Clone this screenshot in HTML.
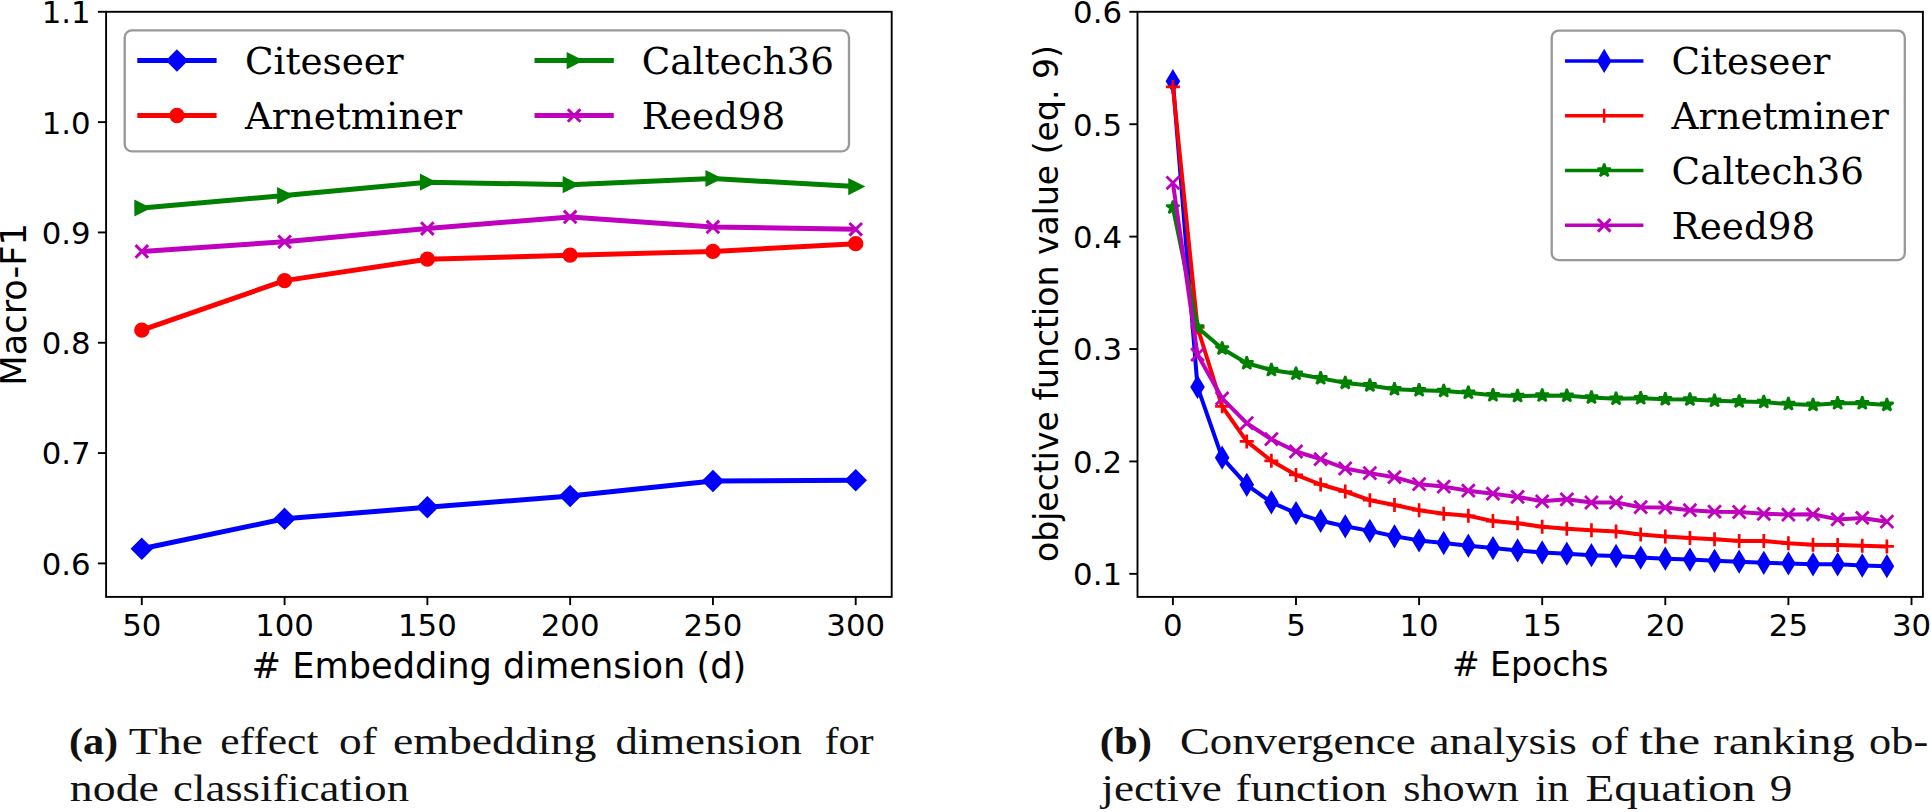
<!DOCTYPE html>
<html lang="en"><head><meta charset="utf-8"><title>Figure</title>
<style>html,body{margin:0;padding:0;background:#fff;overflow:hidden}svg{display:block}text{fill:#000}#captions text{fill:#111}</style></head>
<body>
<svg width="1931" height="812" viewBox="0 0 1931 812">
<rect width="1931" height="812" fill="#fff"/>
<g id="left-chart">
<polyline points="141.8,548.8 284.58,518.8 427.36,507.2 570.14,496.1 712.92,481 855.7,480.2" fill="none" stroke="#0000ff" stroke-width="5.0" stroke-linejoin="round" stroke-linecap="butt"/>
<path d="M141.8 539.2L151.4 548.8L141.8 558.4L132.2 548.8Z" fill="#0000ff" stroke="#0000ff" stroke-width="2.33" stroke-linejoin="miter"/>
<path d="M284.58 509.2L294.18 518.8L284.58 528.4L274.98 518.8Z" fill="#0000ff" stroke="#0000ff" stroke-width="2.33" stroke-linejoin="miter"/>
<path d="M427.36 497.6L436.96 507.2L427.36 516.8L417.76 507.2Z" fill="#0000ff" stroke="#0000ff" stroke-width="2.33" stroke-linejoin="miter"/>
<path d="M570.14 486.5L579.74 496.1L570.14 505.7L560.54 496.1Z" fill="#0000ff" stroke="#0000ff" stroke-width="2.33" stroke-linejoin="miter"/>
<path d="M712.92 471.4L722.52 481L712.92 490.6L703.32 481Z" fill="#0000ff" stroke="#0000ff" stroke-width="2.33" stroke-linejoin="miter"/>
<path d="M855.7 470.6L865.3 480.2L855.7 489.8L846.1 480.2Z" fill="#0000ff" stroke="#0000ff" stroke-width="2.33" stroke-linejoin="miter"/>
<polyline points="141.8,330.2 284.58,280.6 427.36,259.2 570.14,255.2 712.92,251.4 855.7,243.7" fill="none" stroke="#ff0000" stroke-width="5.0" stroke-linejoin="round" stroke-linecap="butt"/>
<circle cx="141.8" cy="330.2" r="6.5" fill="#ff0000" stroke="#ff0000" stroke-width="2.33"/>
<circle cx="284.58" cy="280.6" r="6.5" fill="#ff0000" stroke="#ff0000" stroke-width="2.33"/>
<circle cx="427.36" cy="259.2" r="6.5" fill="#ff0000" stroke="#ff0000" stroke-width="2.33"/>
<circle cx="570.14" cy="255.2" r="6.5" fill="#ff0000" stroke="#ff0000" stroke-width="2.33"/>
<circle cx="712.92" cy="251.4" r="6.5" fill="#ff0000" stroke="#ff0000" stroke-width="2.33"/>
<circle cx="855.7" cy="243.7" r="6.5" fill="#ff0000" stroke="#ff0000" stroke-width="2.33"/>
<polyline points="141.8,208 284.58,195.6 427.36,182.2 570.14,184.7 712.92,178.5 855.7,186.6" fill="none" stroke="#008000" stroke-width="5.0" stroke-linejoin="round" stroke-linecap="butt"/>
<path d="M148.8 208L135.5 201.3L135.5 214.7Z" fill="#008000" stroke="#008000" stroke-width="2.33" stroke-linejoin="miter"/>
<path d="M291.58 195.6L278.28 188.9L278.28 202.3Z" fill="#008000" stroke="#008000" stroke-width="2.33" stroke-linejoin="miter"/>
<path d="M434.36 182.2L421.06 175.5L421.06 188.9Z" fill="#008000" stroke="#008000" stroke-width="2.33" stroke-linejoin="miter"/>
<path d="M577.14 184.7L563.84 178L563.84 191.4Z" fill="#008000" stroke="#008000" stroke-width="2.33" stroke-linejoin="miter"/>
<path d="M719.92 178.5L706.62 171.8L706.62 185.2Z" fill="#008000" stroke="#008000" stroke-width="2.33" stroke-linejoin="miter"/>
<path d="M862.7 186.6L849.4 179.9L849.4 193.3Z" fill="#008000" stroke="#008000" stroke-width="2.33" stroke-linejoin="miter"/>
<polyline points="141.8,251.4 284.58,241.8 427.36,228.6 570.14,216.9 712.92,226.9 855.7,229.3" fill="none" stroke="#bf00bf" stroke-width="5.0" stroke-linejoin="round" stroke-linecap="butt"/>
<path d="M135.5 245.1L148.1 257.7M135.5 257.7L148.1 245.1" fill="none" stroke="#bf00bf" stroke-width="3.0"/>
<path d="M278.28 235.5L290.88 248.1M278.28 248.1L290.88 235.5" fill="none" stroke="#bf00bf" stroke-width="3.0"/>
<path d="M421.06 222.3L433.66 234.9M421.06 234.9L433.66 222.3" fill="none" stroke="#bf00bf" stroke-width="3.0"/>
<path d="M563.84 210.6L576.44 223.2M563.84 223.2L576.44 210.6" fill="none" stroke="#bf00bf" stroke-width="3.0"/>
<path d="M706.62 220.6L719.22 233.2M706.62 233.2L719.22 220.6" fill="none" stroke="#bf00bf" stroke-width="3.0"/>
<path d="M849.4 223L862 235.6M849.4 235.6L862 223" fill="none" stroke="#bf00bf" stroke-width="3.0"/>
<rect x="106.1" y="11.8" width="785.6" height="585.1" fill="none" stroke="#000" stroke-width="1.9"/>
<path d="M106.1 11.8h-8.2" stroke="#000" stroke-width="1.9"/>
<text x="90.7" y="23.2" font-family="'DejaVu Sans','Liberation Sans',sans-serif" font-size="30.8" text-anchor="end">1.1</text>
<path d="M106.1 122.12h-8.2" stroke="#000" stroke-width="1.9"/>
<text x="90.7" y="133.52" font-family="'DejaVu Sans','Liberation Sans',sans-serif" font-size="30.8" text-anchor="end">1.0</text>
<path d="M106.1 232.44h-8.2" stroke="#000" stroke-width="1.9"/>
<text x="90.7" y="243.84" font-family="'DejaVu Sans','Liberation Sans',sans-serif" font-size="30.8" text-anchor="end">0.9</text>
<path d="M106.1 342.76h-8.2" stroke="#000" stroke-width="1.9"/>
<text x="90.7" y="354.16" font-family="'DejaVu Sans','Liberation Sans',sans-serif" font-size="30.8" text-anchor="end">0.8</text>
<path d="M106.1 453.08h-8.2" stroke="#000" stroke-width="1.9"/>
<text x="90.7" y="464.48" font-family="'DejaVu Sans','Liberation Sans',sans-serif" font-size="30.8" text-anchor="end">0.7</text>
<path d="M106.1 563.4h-8.2" stroke="#000" stroke-width="1.9"/>
<text x="90.7" y="574.8" font-family="'DejaVu Sans','Liberation Sans',sans-serif" font-size="30.8" text-anchor="end">0.6</text>
<path d="M141.8 596.9v8.2" stroke="#000" stroke-width="1.9"/>
<text x="141.8" y="635.6" font-family="'DejaVu Sans','Liberation Sans',sans-serif" font-size="30.8" text-anchor="middle">50</text>
<path d="M284.58 596.9v8.2" stroke="#000" stroke-width="1.9"/>
<text x="284.58" y="635.6" font-family="'DejaVu Sans','Liberation Sans',sans-serif" font-size="30.8" text-anchor="middle">100</text>
<path d="M427.36 596.9v8.2" stroke="#000" stroke-width="1.9"/>
<text x="427.36" y="635.6" font-family="'DejaVu Sans','Liberation Sans',sans-serif" font-size="30.8" text-anchor="middle">150</text>
<path d="M570.14 596.9v8.2" stroke="#000" stroke-width="1.9"/>
<text x="570.14" y="635.6" font-family="'DejaVu Sans','Liberation Sans',sans-serif" font-size="30.8" text-anchor="middle">200</text>
<path d="M712.92 596.9v8.2" stroke="#000" stroke-width="1.9"/>
<text x="712.92" y="635.6" font-family="'DejaVu Sans','Liberation Sans',sans-serif" font-size="30.8" text-anchor="middle">250</text>
<path d="M855.7 596.9v8.2" stroke="#000" stroke-width="1.9"/>
<text x="855.7" y="635.6" font-family="'DejaVu Sans','Liberation Sans',sans-serif" font-size="30.8" text-anchor="middle">300</text>
<text x="498.9" y="677.5" font-family="'DejaVu Sans','Liberation Sans',sans-serif" font-size="35.2" text-anchor="middle"># Embedding dimension (d)</text>
<text transform="translate(25.9 304.4) rotate(-90)" font-family="'DejaVu Sans','Liberation Sans',sans-serif" font-size="35.2" text-anchor="middle">Macro-F1</text>
<rect x="124.7" y="30.4" width="724.3" height="120.9" rx="7" ry="7" fill="#fff" fill-opacity="0.8" stroke="#999" stroke-width="2.33"/>
<path d="M137.3 60.6h79.3" stroke="#0000ff" stroke-width="5.0" fill="none"/>
<path d="M176.95 51L186.55 60.6L176.95 70.2L167.35 60.6Z" fill="#0000ff" stroke="#0000ff" stroke-width="2.33" stroke-linejoin="miter"/>
<path d="M137.3 115.5h79.3" stroke="#ff0000" stroke-width="5.0" fill="none"/>
<circle cx="176.95" cy="115.5" r="6.5" fill="#ff0000" stroke="#ff0000" stroke-width="2.33"/>
<path d="M534.5 60.6h79.3" stroke="#008000" stroke-width="5.0" fill="none"/>
<path d="M581.15 60.6L567.85 53.9L567.85 67.3Z" fill="#008000" stroke="#008000" stroke-width="2.33" stroke-linejoin="miter"/>
<path d="M534.5 115.5h79.3" stroke="#bf00bf" stroke-width="5.0" fill="none"/>
<path d="M567.85 109.2L580.45 121.8M567.85 121.8L580.45 109.2" fill="none" stroke="#bf00bf" stroke-width="3.0"/>
<text x="244.9" y="74.2" font-family="'DejaVu Serif','Liberation Serif',serif" font-size="37.33">Citeseer</text>
<text x="244.9" y="129.1" font-family="'DejaVu Serif','Liberation Serif',serif" font-size="37.33">Arnetminer</text>
<text x="641.7" y="74.2" font-family="'DejaVu Serif','Liberation Serif',serif" font-size="37.33">Caltech36</text>
<text x="641.7" y="129.1" font-family="'DejaVu Serif','Liberation Serif',serif" font-size="37.33">Reed98</text>
</g>
<g id="right-chart">
<polyline points="1172.9,81.2 1197.52,386.9 1222.14,457.7 1246.76,484.8 1271.38,502.3 1296,513.1 1320.62,520.8 1345.24,526.3 1369.86,530.9 1394.48,536.3 1419.1,540.4 1443.72,543 1468.34,545.7 1492.96,548.1 1517.58,550.4 1542.2,552.5 1566.82,553.7 1591.44,555.2 1616.06,556 1640.68,557.6 1665.3,558.7 1689.92,559.6 1714.54,560.8 1739.16,561.7 1763.78,562.8 1788.4,563.4 1813.02,564.3 1837.64,564.3 1862.26,565.5 1886.88,566.2" fill="none" stroke="#0000ff" stroke-width="4.0" stroke-linejoin="round" stroke-linecap="butt"/>
<path d="M1172.9 71.3L1178.84 81.2L1172.9 91.1L1166.96 81.2Z" fill="#0000ff" stroke="#0000ff" stroke-width="2.33" stroke-linejoin="miter"/>
<path d="M1197.52 377L1203.46 386.9L1197.52 396.8L1191.58 386.9Z" fill="#0000ff" stroke="#0000ff" stroke-width="2.33" stroke-linejoin="miter"/>
<path d="M1222.14 447.8L1228.08 457.7L1222.14 467.6L1216.2 457.7Z" fill="#0000ff" stroke="#0000ff" stroke-width="2.33" stroke-linejoin="miter"/>
<path d="M1246.76 474.9L1252.7 484.8L1246.76 494.7L1240.82 484.8Z" fill="#0000ff" stroke="#0000ff" stroke-width="2.33" stroke-linejoin="miter"/>
<path d="M1271.38 492.4L1277.32 502.3L1271.38 512.2L1265.44 502.3Z" fill="#0000ff" stroke="#0000ff" stroke-width="2.33" stroke-linejoin="miter"/>
<path d="M1296 503.2L1301.94 513.1L1296 523L1290.06 513.1Z" fill="#0000ff" stroke="#0000ff" stroke-width="2.33" stroke-linejoin="miter"/>
<path d="M1320.62 510.9L1326.56 520.8L1320.62 530.7L1314.68 520.8Z" fill="#0000ff" stroke="#0000ff" stroke-width="2.33" stroke-linejoin="miter"/>
<path d="M1345.24 516.4L1351.18 526.3L1345.24 536.2L1339.3 526.3Z" fill="#0000ff" stroke="#0000ff" stroke-width="2.33" stroke-linejoin="miter"/>
<path d="M1369.86 521L1375.8 530.9L1369.86 540.8L1363.92 530.9Z" fill="#0000ff" stroke="#0000ff" stroke-width="2.33" stroke-linejoin="miter"/>
<path d="M1394.48 526.4L1400.42 536.3L1394.48 546.2L1388.54 536.3Z" fill="#0000ff" stroke="#0000ff" stroke-width="2.33" stroke-linejoin="miter"/>
<path d="M1419.1 530.5L1425.04 540.4L1419.1 550.3L1413.16 540.4Z" fill="#0000ff" stroke="#0000ff" stroke-width="2.33" stroke-linejoin="miter"/>
<path d="M1443.72 533.1L1449.66 543L1443.72 552.9L1437.78 543Z" fill="#0000ff" stroke="#0000ff" stroke-width="2.33" stroke-linejoin="miter"/>
<path d="M1468.34 535.8L1474.28 545.7L1468.34 555.6L1462.4 545.7Z" fill="#0000ff" stroke="#0000ff" stroke-width="2.33" stroke-linejoin="miter"/>
<path d="M1492.96 538.2L1498.9 548.1L1492.96 558L1487.02 548.1Z" fill="#0000ff" stroke="#0000ff" stroke-width="2.33" stroke-linejoin="miter"/>
<path d="M1517.58 540.5L1523.52 550.4L1517.58 560.3L1511.64 550.4Z" fill="#0000ff" stroke="#0000ff" stroke-width="2.33" stroke-linejoin="miter"/>
<path d="M1542.2 542.6L1548.14 552.5L1542.2 562.4L1536.26 552.5Z" fill="#0000ff" stroke="#0000ff" stroke-width="2.33" stroke-linejoin="miter"/>
<path d="M1566.82 543.8L1572.76 553.7L1566.82 563.6L1560.88 553.7Z" fill="#0000ff" stroke="#0000ff" stroke-width="2.33" stroke-linejoin="miter"/>
<path d="M1591.44 545.3L1597.38 555.2L1591.44 565.1L1585.5 555.2Z" fill="#0000ff" stroke="#0000ff" stroke-width="2.33" stroke-linejoin="miter"/>
<path d="M1616.06 546.1L1622 556L1616.06 565.9L1610.12 556Z" fill="#0000ff" stroke="#0000ff" stroke-width="2.33" stroke-linejoin="miter"/>
<path d="M1640.68 547.7L1646.62 557.6L1640.68 567.5L1634.74 557.6Z" fill="#0000ff" stroke="#0000ff" stroke-width="2.33" stroke-linejoin="miter"/>
<path d="M1665.3 548.8L1671.24 558.7L1665.3 568.6L1659.36 558.7Z" fill="#0000ff" stroke="#0000ff" stroke-width="2.33" stroke-linejoin="miter"/>
<path d="M1689.92 549.7L1695.86 559.6L1689.92 569.5L1683.98 559.6Z" fill="#0000ff" stroke="#0000ff" stroke-width="2.33" stroke-linejoin="miter"/>
<path d="M1714.54 550.9L1720.48 560.8L1714.54 570.7L1708.6 560.8Z" fill="#0000ff" stroke="#0000ff" stroke-width="2.33" stroke-linejoin="miter"/>
<path d="M1739.16 551.8L1745.1 561.7L1739.16 571.6L1733.22 561.7Z" fill="#0000ff" stroke="#0000ff" stroke-width="2.33" stroke-linejoin="miter"/>
<path d="M1763.78 552.9L1769.72 562.8L1763.78 572.7L1757.84 562.8Z" fill="#0000ff" stroke="#0000ff" stroke-width="2.33" stroke-linejoin="miter"/>
<path d="M1788.4 553.5L1794.34 563.4L1788.4 573.3L1782.46 563.4Z" fill="#0000ff" stroke="#0000ff" stroke-width="2.33" stroke-linejoin="miter"/>
<path d="M1813.02 554.4L1818.96 564.3L1813.02 574.2L1807.08 564.3Z" fill="#0000ff" stroke="#0000ff" stroke-width="2.33" stroke-linejoin="miter"/>
<path d="M1837.64 554.4L1843.58 564.3L1837.64 574.2L1831.7 564.3Z" fill="#0000ff" stroke="#0000ff" stroke-width="2.33" stroke-linejoin="miter"/>
<path d="M1862.26 555.6L1868.2 565.5L1862.26 575.4L1856.32 565.5Z" fill="#0000ff" stroke="#0000ff" stroke-width="2.33" stroke-linejoin="miter"/>
<path d="M1886.88 556.3L1892.82 566.2L1886.88 576.1L1880.94 566.2Z" fill="#0000ff" stroke="#0000ff" stroke-width="2.33" stroke-linejoin="miter"/>
<polyline points="1172.9,86.9 1197.52,327.5 1222.14,406.3 1246.76,441.4 1271.38,460.8 1296,474.9 1320.62,484.5 1345.24,491.5 1369.86,500.2 1394.48,505 1419.1,510.2 1443.72,513.8 1468.34,515.8 1492.96,521.1 1517.58,523.2 1542.2,526.8 1566.82,528.8 1591.44,530.3 1616.06,531.5 1640.68,534.6 1665.3,536.5 1689.92,538 1714.54,539.2 1739.16,541 1763.78,541 1788.4,543.3 1813.02,544.8 1837.64,545.1 1862.26,545.7 1886.88,546.4" fill="none" stroke="#ff0000" stroke-width="4.0" stroke-linejoin="round" stroke-linecap="butt"/>
<path d="M1165.9 86.9L1179.9 86.9M1172.9 79.9L1172.9 93.9" fill="none" stroke="#ff0000" stroke-width="2.7"/>
<path d="M1190.52 327.5L1204.52 327.5M1197.52 320.5L1197.52 334.5" fill="none" stroke="#ff0000" stroke-width="2.7"/>
<path d="M1215.14 406.3L1229.14 406.3M1222.14 399.3L1222.14 413.3" fill="none" stroke="#ff0000" stroke-width="2.7"/>
<path d="M1239.76 441.4L1253.76 441.4M1246.76 434.4L1246.76 448.4" fill="none" stroke="#ff0000" stroke-width="2.7"/>
<path d="M1264.38 460.8L1278.38 460.8M1271.38 453.8L1271.38 467.8" fill="none" stroke="#ff0000" stroke-width="2.7"/>
<path d="M1289 474.9L1303 474.9M1296 467.9L1296 481.9" fill="none" stroke="#ff0000" stroke-width="2.7"/>
<path d="M1313.62 484.5L1327.62 484.5M1320.62 477.5L1320.62 491.5" fill="none" stroke="#ff0000" stroke-width="2.7"/>
<path d="M1338.24 491.5L1352.24 491.5M1345.24 484.5L1345.24 498.5" fill="none" stroke="#ff0000" stroke-width="2.7"/>
<path d="M1362.86 500.2L1376.86 500.2M1369.86 493.2L1369.86 507.2" fill="none" stroke="#ff0000" stroke-width="2.7"/>
<path d="M1387.48 505L1401.48 505M1394.48 498L1394.48 512" fill="none" stroke="#ff0000" stroke-width="2.7"/>
<path d="M1412.1 510.2L1426.1 510.2M1419.1 503.2L1419.1 517.2" fill="none" stroke="#ff0000" stroke-width="2.7"/>
<path d="M1436.72 513.8L1450.72 513.8M1443.72 506.8L1443.72 520.8" fill="none" stroke="#ff0000" stroke-width="2.7"/>
<path d="M1461.34 515.8L1475.34 515.8M1468.34 508.8L1468.34 522.8" fill="none" stroke="#ff0000" stroke-width="2.7"/>
<path d="M1485.96 521.1L1499.96 521.1M1492.96 514.1L1492.96 528.1" fill="none" stroke="#ff0000" stroke-width="2.7"/>
<path d="M1510.58 523.2L1524.58 523.2M1517.58 516.2L1517.58 530.2" fill="none" stroke="#ff0000" stroke-width="2.7"/>
<path d="M1535.2 526.8L1549.2 526.8M1542.2 519.8L1542.2 533.8" fill="none" stroke="#ff0000" stroke-width="2.7"/>
<path d="M1559.82 528.8L1573.82 528.8M1566.82 521.8L1566.82 535.8" fill="none" stroke="#ff0000" stroke-width="2.7"/>
<path d="M1584.44 530.3L1598.44 530.3M1591.44 523.3L1591.44 537.3" fill="none" stroke="#ff0000" stroke-width="2.7"/>
<path d="M1609.06 531.5L1623.06 531.5M1616.06 524.5L1616.06 538.5" fill="none" stroke="#ff0000" stroke-width="2.7"/>
<path d="M1633.68 534.6L1647.68 534.6M1640.68 527.6L1640.68 541.6" fill="none" stroke="#ff0000" stroke-width="2.7"/>
<path d="M1658.3 536.5L1672.3 536.5M1665.3 529.5L1665.3 543.5" fill="none" stroke="#ff0000" stroke-width="2.7"/>
<path d="M1682.92 538L1696.92 538M1689.92 531L1689.92 545" fill="none" stroke="#ff0000" stroke-width="2.7"/>
<path d="M1707.54 539.2L1721.54 539.2M1714.54 532.2L1714.54 546.2" fill="none" stroke="#ff0000" stroke-width="2.7"/>
<path d="M1732.16 541L1746.16 541M1739.16 534L1739.16 548" fill="none" stroke="#ff0000" stroke-width="2.7"/>
<path d="M1756.78 541L1770.78 541M1763.78 534L1763.78 548" fill="none" stroke="#ff0000" stroke-width="2.7"/>
<path d="M1781.4 543.3L1795.4 543.3M1788.4 536.3L1788.4 550.3" fill="none" stroke="#ff0000" stroke-width="2.7"/>
<path d="M1806.02 544.8L1820.02 544.8M1813.02 537.8L1813.02 551.8" fill="none" stroke="#ff0000" stroke-width="2.7"/>
<path d="M1830.64 545.1L1844.64 545.1M1837.64 538.1L1837.64 552.1" fill="none" stroke="#ff0000" stroke-width="2.7"/>
<path d="M1855.26 545.7L1869.26 545.7M1862.26 538.7L1862.26 552.7" fill="none" stroke="#ff0000" stroke-width="2.7"/>
<path d="M1879.88 546.4L1893.88 546.4M1886.88 539.4L1886.88 553.4" fill="none" stroke="#ff0000" stroke-width="2.7"/>
<polyline points="1172.9,207.5 1197.52,327.5 1222.14,348.5 1246.76,363.2 1271.38,370 1296,373.7 1320.62,378.3 1345.24,382.9 1369.86,385.4 1394.48,389.2 1419.1,390.2 1443.72,391 1468.34,392.8 1492.96,395.2 1517.58,396.1 1542.2,395.5 1566.82,395.8 1591.44,397.6 1616.06,398.7 1640.68,398.2 1665.3,399.3 1689.92,399.6 1714.54,400.8 1739.16,401.4 1763.78,402 1788.4,404.1 1813.02,404.9 1837.64,403.2 1862.26,403.2 1886.88,404.9" fill="none" stroke="#008000" stroke-width="4.0" stroke-linejoin="round" stroke-linecap="butt"/>
<polygon points="1172.9,200.6 1174.45,205.37 1179.46,205.37 1175.41,208.31 1176.96,213.08 1172.9,210.14 1168.84,213.08 1170.39,208.31 1166.34,205.37 1171.35,205.37" fill="#008000" stroke="#008000" stroke-width="2.33" stroke-linejoin="bevel"/>
<polygon points="1197.52,320.6 1199.07,325.37 1204.08,325.37 1200.03,328.31 1201.58,333.08 1197.52,330.14 1193.46,333.08 1195.01,328.31 1190.96,325.37 1195.97,325.37" fill="#008000" stroke="#008000" stroke-width="2.33" stroke-linejoin="bevel"/>
<polygon points="1222.14,341.6 1223.69,346.37 1228.7,346.37 1224.65,349.31 1226.2,354.08 1222.14,351.14 1218.08,354.08 1219.63,349.31 1215.58,346.37 1220.59,346.37" fill="#008000" stroke="#008000" stroke-width="2.33" stroke-linejoin="bevel"/>
<polygon points="1246.76,356.3 1248.31,361.07 1253.32,361.07 1249.27,364.01 1250.82,368.78 1246.76,365.84 1242.7,368.78 1244.25,364.01 1240.2,361.07 1245.21,361.07" fill="#008000" stroke="#008000" stroke-width="2.33" stroke-linejoin="bevel"/>
<polygon points="1271.38,363.1 1272.93,367.87 1277.94,367.87 1273.89,370.81 1275.44,375.58 1271.38,372.64 1267.32,375.58 1268.87,370.81 1264.82,367.87 1269.83,367.87" fill="#008000" stroke="#008000" stroke-width="2.33" stroke-linejoin="bevel"/>
<polygon points="1296,366.8 1297.55,371.57 1302.56,371.57 1298.51,374.51 1300.06,379.28 1296,376.34 1291.94,379.28 1293.49,374.51 1289.44,371.57 1294.45,371.57" fill="#008000" stroke="#008000" stroke-width="2.33" stroke-linejoin="bevel"/>
<polygon points="1320.62,371.4 1322.17,376.17 1327.18,376.17 1323.13,379.11 1324.68,383.88 1320.62,380.94 1316.56,383.88 1318.11,379.11 1314.06,376.17 1319.07,376.17" fill="#008000" stroke="#008000" stroke-width="2.33" stroke-linejoin="bevel"/>
<polygon points="1345.24,376 1346.79,380.77 1351.8,380.77 1347.75,383.71 1349.3,388.48 1345.24,385.54 1341.18,388.48 1342.73,383.71 1338.68,380.77 1343.69,380.77" fill="#008000" stroke="#008000" stroke-width="2.33" stroke-linejoin="bevel"/>
<polygon points="1369.86,378.5 1371.41,383.27 1376.42,383.27 1372.37,386.21 1373.92,390.98 1369.86,388.04 1365.8,390.98 1367.35,386.21 1363.3,383.27 1368.31,383.27" fill="#008000" stroke="#008000" stroke-width="2.33" stroke-linejoin="bevel"/>
<polygon points="1394.48,382.3 1396.03,387.07 1401.04,387.07 1396.99,390.01 1398.54,394.78 1394.48,391.84 1390.42,394.78 1391.97,390.01 1387.92,387.07 1392.93,387.07" fill="#008000" stroke="#008000" stroke-width="2.33" stroke-linejoin="bevel"/>
<polygon points="1419.1,383.3 1420.65,388.07 1425.66,388.07 1421.61,391.01 1423.16,395.78 1419.1,392.84 1415.04,395.78 1416.59,391.01 1412.54,388.07 1417.55,388.07" fill="#008000" stroke="#008000" stroke-width="2.33" stroke-linejoin="bevel"/>
<polygon points="1443.72,384.1 1445.27,388.87 1450.28,388.87 1446.23,391.81 1447.78,396.58 1443.72,393.64 1439.66,396.58 1441.21,391.81 1437.16,388.87 1442.17,388.87" fill="#008000" stroke="#008000" stroke-width="2.33" stroke-linejoin="bevel"/>
<polygon points="1468.34,385.9 1469.89,390.67 1474.9,390.67 1470.85,393.61 1472.4,398.38 1468.34,395.44 1464.28,398.38 1465.83,393.61 1461.78,390.67 1466.79,390.67" fill="#008000" stroke="#008000" stroke-width="2.33" stroke-linejoin="bevel"/>
<polygon points="1492.96,388.3 1494.51,393.07 1499.52,393.07 1495.47,396.01 1497.02,400.78 1492.96,397.84 1488.9,400.78 1490.45,396.01 1486.4,393.07 1491.41,393.07" fill="#008000" stroke="#008000" stroke-width="2.33" stroke-linejoin="bevel"/>
<polygon points="1517.58,389.2 1519.13,393.97 1524.14,393.97 1520.09,396.91 1521.64,401.68 1517.58,398.74 1513.52,401.68 1515.07,396.91 1511.02,393.97 1516.03,393.97" fill="#008000" stroke="#008000" stroke-width="2.33" stroke-linejoin="bevel"/>
<polygon points="1542.2,388.6 1543.75,393.37 1548.76,393.37 1544.71,396.31 1546.26,401.08 1542.2,398.14 1538.14,401.08 1539.69,396.31 1535.64,393.37 1540.65,393.37" fill="#008000" stroke="#008000" stroke-width="2.33" stroke-linejoin="bevel"/>
<polygon points="1566.82,388.9 1568.37,393.67 1573.38,393.67 1569.33,396.61 1570.88,401.38 1566.82,398.44 1562.76,401.38 1564.31,396.61 1560.26,393.67 1565.27,393.67" fill="#008000" stroke="#008000" stroke-width="2.33" stroke-linejoin="bevel"/>
<polygon points="1591.44,390.7 1592.99,395.47 1598,395.47 1593.95,398.41 1595.5,403.18 1591.44,400.24 1587.38,403.18 1588.93,398.41 1584.88,395.47 1589.89,395.47" fill="#008000" stroke="#008000" stroke-width="2.33" stroke-linejoin="bevel"/>
<polygon points="1616.06,391.8 1617.61,396.57 1622.62,396.57 1618.57,399.51 1620.12,404.28 1616.06,401.34 1612,404.28 1613.55,399.51 1609.5,396.57 1614.51,396.57" fill="#008000" stroke="#008000" stroke-width="2.33" stroke-linejoin="bevel"/>
<polygon points="1640.68,391.3 1642.23,396.07 1647.24,396.07 1643.19,399.01 1644.74,403.78 1640.68,400.84 1636.62,403.78 1638.17,399.01 1634.12,396.07 1639.13,396.07" fill="#008000" stroke="#008000" stroke-width="2.33" stroke-linejoin="bevel"/>
<polygon points="1665.3,392.4 1666.85,397.17 1671.86,397.17 1667.81,400.11 1669.36,404.88 1665.3,401.94 1661.24,404.88 1662.79,400.11 1658.74,397.17 1663.75,397.17" fill="#008000" stroke="#008000" stroke-width="2.33" stroke-linejoin="bevel"/>
<polygon points="1689.92,392.7 1691.47,397.47 1696.48,397.47 1692.43,400.41 1693.98,405.18 1689.92,402.24 1685.86,405.18 1687.41,400.41 1683.36,397.47 1688.37,397.47" fill="#008000" stroke="#008000" stroke-width="2.33" stroke-linejoin="bevel"/>
<polygon points="1714.54,393.9 1716.09,398.67 1721.1,398.67 1717.05,401.61 1718.6,406.38 1714.54,403.44 1710.48,406.38 1712.03,401.61 1707.98,398.67 1712.99,398.67" fill="#008000" stroke="#008000" stroke-width="2.33" stroke-linejoin="bevel"/>
<polygon points="1739.16,394.5 1740.71,399.27 1745.72,399.27 1741.67,402.21 1743.22,406.98 1739.16,404.04 1735.1,406.98 1736.65,402.21 1732.6,399.27 1737.61,399.27" fill="#008000" stroke="#008000" stroke-width="2.33" stroke-linejoin="bevel"/>
<polygon points="1763.78,395.1 1765.33,399.87 1770.34,399.87 1766.29,402.81 1767.84,407.58 1763.78,404.64 1759.72,407.58 1761.27,402.81 1757.22,399.87 1762.23,399.87" fill="#008000" stroke="#008000" stroke-width="2.33" stroke-linejoin="bevel"/>
<polygon points="1788.4,397.2 1789.95,401.97 1794.96,401.97 1790.91,404.91 1792.46,409.68 1788.4,406.74 1784.34,409.68 1785.89,404.91 1781.84,401.97 1786.85,401.97" fill="#008000" stroke="#008000" stroke-width="2.33" stroke-linejoin="bevel"/>
<polygon points="1813.02,398 1814.57,402.77 1819.58,402.77 1815.53,405.71 1817.08,410.48 1813.02,407.54 1808.96,410.48 1810.51,405.71 1806.46,402.77 1811.47,402.77" fill="#008000" stroke="#008000" stroke-width="2.33" stroke-linejoin="bevel"/>
<polygon points="1837.64,396.3 1839.19,401.07 1844.2,401.07 1840.15,404.01 1841.7,408.78 1837.64,405.84 1833.58,408.78 1835.13,404.01 1831.08,401.07 1836.09,401.07" fill="#008000" stroke="#008000" stroke-width="2.33" stroke-linejoin="bevel"/>
<polygon points="1862.26,396.3 1863.81,401.07 1868.82,401.07 1864.77,404.01 1866.32,408.78 1862.26,405.84 1858.2,408.78 1859.75,404.01 1855.7,401.07 1860.71,401.07" fill="#008000" stroke="#008000" stroke-width="2.33" stroke-linejoin="bevel"/>
<polygon points="1886.88,398 1888.43,402.77 1893.44,402.77 1889.39,405.71 1890.94,410.48 1886.88,407.54 1882.82,410.48 1884.37,405.71 1880.32,402.77 1885.33,402.77" fill="#008000" stroke="#008000" stroke-width="2.33" stroke-linejoin="bevel"/>
<polyline points="1172.9,182.9 1197.52,354.6 1222.14,398.3 1246.76,423.2 1271.38,439.2 1296,451.5 1320.62,459.2 1345.24,468.5 1369.86,473.1 1394.48,477.2 1419.1,484.2 1443.72,486.6 1468.34,490.7 1492.96,493.7 1517.58,496.9 1542.2,501.3 1566.82,499.3 1591.44,502.5 1616.06,502.5 1640.68,507.2 1665.3,507.5 1689.92,510.2 1714.54,511.7 1739.16,512 1763.78,513.8 1788.4,514.6 1813.02,514.3 1837.64,519.4 1862.26,517.9 1886.88,521.7" fill="none" stroke="#bf00bf" stroke-width="4.0" stroke-linejoin="round" stroke-linecap="butt"/>
<path d="M1166.5 176.5L1179.3 189.3M1166.5 189.3L1179.3 176.5" fill="none" stroke="#bf00bf" stroke-width="2.8"/>
<path d="M1191.12 348.2L1203.92 361M1191.12 361L1203.92 348.2" fill="none" stroke="#bf00bf" stroke-width="2.8"/>
<path d="M1215.74 391.9L1228.54 404.7M1215.74 404.7L1228.54 391.9" fill="none" stroke="#bf00bf" stroke-width="2.8"/>
<path d="M1240.36 416.8L1253.16 429.6M1240.36 429.6L1253.16 416.8" fill="none" stroke="#bf00bf" stroke-width="2.8"/>
<path d="M1264.98 432.8L1277.78 445.6M1264.98 445.6L1277.78 432.8" fill="none" stroke="#bf00bf" stroke-width="2.8"/>
<path d="M1289.6 445.1L1302.4 457.9M1289.6 457.9L1302.4 445.1" fill="none" stroke="#bf00bf" stroke-width="2.8"/>
<path d="M1314.22 452.8L1327.02 465.6M1314.22 465.6L1327.02 452.8" fill="none" stroke="#bf00bf" stroke-width="2.8"/>
<path d="M1338.84 462.1L1351.64 474.9M1338.84 474.9L1351.64 462.1" fill="none" stroke="#bf00bf" stroke-width="2.8"/>
<path d="M1363.46 466.7L1376.26 479.5M1363.46 479.5L1376.26 466.7" fill="none" stroke="#bf00bf" stroke-width="2.8"/>
<path d="M1388.08 470.8L1400.88 483.6M1388.08 483.6L1400.88 470.8" fill="none" stroke="#bf00bf" stroke-width="2.8"/>
<path d="M1412.7 477.8L1425.5 490.6M1412.7 490.6L1425.5 477.8" fill="none" stroke="#bf00bf" stroke-width="2.8"/>
<path d="M1437.32 480.2L1450.12 493M1437.32 493L1450.12 480.2" fill="none" stroke="#bf00bf" stroke-width="2.8"/>
<path d="M1461.94 484.3L1474.74 497.1M1461.94 497.1L1474.74 484.3" fill="none" stroke="#bf00bf" stroke-width="2.8"/>
<path d="M1486.56 487.3L1499.36 500.1M1486.56 500.1L1499.36 487.3" fill="none" stroke="#bf00bf" stroke-width="2.8"/>
<path d="M1511.18 490.5L1523.98 503.3M1511.18 503.3L1523.98 490.5" fill="none" stroke="#bf00bf" stroke-width="2.8"/>
<path d="M1535.8 494.9L1548.6 507.7M1535.8 507.7L1548.6 494.9" fill="none" stroke="#bf00bf" stroke-width="2.8"/>
<path d="M1560.42 492.9L1573.22 505.7M1560.42 505.7L1573.22 492.9" fill="none" stroke="#bf00bf" stroke-width="2.8"/>
<path d="M1585.04 496.1L1597.84 508.9M1585.04 508.9L1597.84 496.1" fill="none" stroke="#bf00bf" stroke-width="2.8"/>
<path d="M1609.66 496.1L1622.46 508.9M1609.66 508.9L1622.46 496.1" fill="none" stroke="#bf00bf" stroke-width="2.8"/>
<path d="M1634.28 500.8L1647.08 513.6M1634.28 513.6L1647.08 500.8" fill="none" stroke="#bf00bf" stroke-width="2.8"/>
<path d="M1658.9 501.1L1671.7 513.9M1658.9 513.9L1671.7 501.1" fill="none" stroke="#bf00bf" stroke-width="2.8"/>
<path d="M1683.52 503.8L1696.32 516.6M1683.52 516.6L1696.32 503.8" fill="none" stroke="#bf00bf" stroke-width="2.8"/>
<path d="M1708.14 505.3L1720.94 518.1M1708.14 518.1L1720.94 505.3" fill="none" stroke="#bf00bf" stroke-width="2.8"/>
<path d="M1732.76 505.6L1745.56 518.4M1732.76 518.4L1745.56 505.6" fill="none" stroke="#bf00bf" stroke-width="2.8"/>
<path d="M1757.38 507.4L1770.18 520.2M1757.38 520.2L1770.18 507.4" fill="none" stroke="#bf00bf" stroke-width="2.8"/>
<path d="M1782 508.2L1794.8 521M1782 521L1794.8 508.2" fill="none" stroke="#bf00bf" stroke-width="2.8"/>
<path d="M1806.62 507.9L1819.42 520.7M1806.62 520.7L1819.42 507.9" fill="none" stroke="#bf00bf" stroke-width="2.8"/>
<path d="M1831.24 513L1844.04 525.8M1831.24 525.8L1844.04 513" fill="none" stroke="#bf00bf" stroke-width="2.8"/>
<path d="M1855.86 511.5L1868.66 524.3M1855.86 524.3L1868.66 511.5" fill="none" stroke="#bf00bf" stroke-width="2.8"/>
<path d="M1880.48 515.3L1893.28 528.1M1880.48 528.1L1893.28 515.3" fill="none" stroke="#bf00bf" stroke-width="2.8"/>
<rect x="1137.5" y="11.8" width="785.4" height="585.1" fill="none" stroke="#000" stroke-width="1.9"/>
<path d="M1137.5 11.8h-8.2" stroke="#000" stroke-width="1.9"/>
<text x="1122.1" y="23.2" font-family="'DejaVu Sans','Liberation Sans',sans-serif" font-size="30.8" text-anchor="end">0.6</text>
<path d="M1137.5 124.21h-8.2" stroke="#000" stroke-width="1.9"/>
<text x="1122.1" y="135.61" font-family="'DejaVu Sans','Liberation Sans',sans-serif" font-size="30.8" text-anchor="end">0.5</text>
<path d="M1137.5 236.62h-8.2" stroke="#000" stroke-width="1.9"/>
<text x="1122.1" y="248.02" font-family="'DejaVu Sans','Liberation Sans',sans-serif" font-size="30.8" text-anchor="end">0.4</text>
<path d="M1137.5 349.03h-8.2" stroke="#000" stroke-width="1.9"/>
<text x="1122.1" y="360.43" font-family="'DejaVu Sans','Liberation Sans',sans-serif" font-size="30.8" text-anchor="end">0.3</text>
<path d="M1137.5 461.44h-8.2" stroke="#000" stroke-width="1.9"/>
<text x="1122.1" y="472.84" font-family="'DejaVu Sans','Liberation Sans',sans-serif" font-size="30.8" text-anchor="end">0.2</text>
<path d="M1137.5 573.85h-8.2" stroke="#000" stroke-width="1.9"/>
<text x="1122.1" y="585.25" font-family="'DejaVu Sans','Liberation Sans',sans-serif" font-size="30.8" text-anchor="end">0.1</text>
<path d="M1172.9 596.9v8.2" stroke="#000" stroke-width="1.9"/>
<text x="1172.9" y="635.6" font-family="'DejaVu Sans','Liberation Sans',sans-serif" font-size="30.8" text-anchor="middle">0</text>
<path d="M1296 596.9v8.2" stroke="#000" stroke-width="1.9"/>
<text x="1296" y="635.6" font-family="'DejaVu Sans','Liberation Sans',sans-serif" font-size="30.8" text-anchor="middle">5</text>
<path d="M1419.1 596.9v8.2" stroke="#000" stroke-width="1.9"/>
<text x="1419.1" y="635.6" font-family="'DejaVu Sans','Liberation Sans',sans-serif" font-size="30.8" text-anchor="middle">10</text>
<path d="M1542.2 596.9v8.2" stroke="#000" stroke-width="1.9"/>
<text x="1542.2" y="635.6" font-family="'DejaVu Sans','Liberation Sans',sans-serif" font-size="30.8" text-anchor="middle">15</text>
<path d="M1665.3 596.9v8.2" stroke="#000" stroke-width="1.9"/>
<text x="1665.3" y="635.6" font-family="'DejaVu Sans','Liberation Sans',sans-serif" font-size="30.8" text-anchor="middle">20</text>
<path d="M1788.4 596.9v8.2" stroke="#000" stroke-width="1.9"/>
<text x="1788.4" y="635.6" font-family="'DejaVu Sans','Liberation Sans',sans-serif" font-size="30.8" text-anchor="middle">25</text>
<path d="M1911.5 596.9v8.2" stroke="#000" stroke-width="1.9"/>
<text x="1911.5" y="635.6" font-family="'DejaVu Sans','Liberation Sans',sans-serif" font-size="30.8" text-anchor="middle">30</text>
<text x="1530.2" y="676.2" font-family="'DejaVu Sans','Liberation Sans',sans-serif" font-size="33.05" text-anchor="middle"># Epochs</text>
<text transform="translate(1058.2 303.6) rotate(-90)" font-family="'DejaVu Sans','Liberation Sans',sans-serif" font-size="33.05" text-anchor="middle">objective function value (eq. 9)</text>
<rect x="1551.7" y="30.6" width="353.1" height="229.5" rx="7" ry="7" fill="#fff" fill-opacity="0.8" stroke="#999" stroke-width="2.33"/>
<path d="M1565 60.9h78.4" stroke="#0000ff" stroke-width="3.5" fill="none"/>
<path d="M1604.2 51L1610.14 60.9L1604.2 70.8L1598.26 60.9Z" fill="#0000ff" stroke="#0000ff" stroke-width="2.33" stroke-linejoin="miter"/>
<path d="M1565 115.7h78.4" stroke="#ff0000" stroke-width="3.5" fill="none"/>
<path d="M1597.2 115.7L1611.2 115.7M1604.2 108.7L1604.2 122.7" fill="none" stroke="#ff0000" stroke-width="2.33"/>
<path d="M1565 170.5h78.4" stroke="#008000" stroke-width="3.5" fill="none"/>
<polygon points="1604.2,163.6 1605.75,168.37 1610.76,168.37 1606.71,171.31 1608.26,176.08 1604.2,173.14 1600.14,176.08 1601.69,171.31 1597.64,168.37 1602.65,168.37" fill="#008000" stroke="#008000" stroke-width="2.33" stroke-linejoin="bevel"/>
<path d="M1565 225.3h78.4" stroke="#bf00bf" stroke-width="3.5" fill="none"/>
<path d="M1597.9 219L1610.5 231.6M1597.9 231.6L1610.5 219" fill="none" stroke="#bf00bf" stroke-width="3.0"/>
<text x="1671.6" y="74.1" font-family="'DejaVu Serif','Liberation Serif',serif" font-size="37.33">Citeseer</text>
<text x="1671.6" y="128.9" font-family="'DejaVu Serif','Liberation Serif',serif" font-size="37.33">Arnetminer</text>
<text x="1671.6" y="183.7" font-family="'DejaVu Serif','Liberation Serif',serif" font-size="37.33">Caltech36</text>
<text x="1671.6" y="238.5" font-family="'DejaVu Serif','Liberation Serif',serif" font-size="37.33">Reed98</text>
</g>
<g id="captions" fill="#111">
<text x="68.9" y="753.5" font-family="'Liberation Serif','DejaVu Serif',serif" font-size="38.5" font-weight="bold" textLength="49.24" lengthAdjust="spacingAndGlyphs">(a)</text>
<text x="128.76" y="753.5" font-family="'Liberation Serif','DejaVu Serif',serif" font-size="38.5" textLength="74.19" lengthAdjust="spacingAndGlyphs">The</text>
<text x="220.26" y="753.5" font-family="'Liberation Serif','DejaVu Serif',serif" font-size="38.5" textLength="98.26" lengthAdjust="spacingAndGlyphs">effect</text>
<text x="339" y="753.5" font-family="'Liberation Serif','DejaVu Serif',serif" font-size="38.5" textLength="37.83" lengthAdjust="spacingAndGlyphs">of</text>
<text x="392.97" y="753.5" font-family="'Liberation Serif','DejaVu Serif',serif" font-size="38.5" textLength="203.39" lengthAdjust="spacingAndGlyphs">embedding</text>
<text x="615.43" y="753.5" font-family="'Liberation Serif','DejaVu Serif',serif" font-size="38.5" textLength="186.6" lengthAdjust="spacingAndGlyphs">dimension</text>
<text x="824.43" y="753.5" font-family="'Liberation Serif','DejaVu Serif',serif" font-size="38.5" textLength="49.23" lengthAdjust="spacingAndGlyphs">for</text>
<text x="69.87" y="801.3" font-family="'Liberation Serif','DejaVu Serif',serif" font-size="38.5" textLength="89.08" lengthAdjust="spacingAndGlyphs">node</text>
<text x="173.12" y="801.3" font-family="'Liberation Serif','DejaVu Serif',serif" font-size="38.5" textLength="235.9" lengthAdjust="spacingAndGlyphs">classification</text>
<text x="1099.68" y="753.5" font-family="'Liberation Serif','DejaVu Serif',serif" font-size="38.5" font-weight="bold" textLength="52.23" lengthAdjust="spacingAndGlyphs">(b)</text>
<text x="1179.91" y="753.5" font-family="'Liberation Serif','DejaVu Serif',serif" font-size="38.5" textLength="235.66" lengthAdjust="spacingAndGlyphs">Convergence</text>
<text x="1429.2" y="753.5" font-family="'Liberation Serif','DejaVu Serif',serif" font-size="38.5" textLength="147.69" lengthAdjust="spacingAndGlyphs">analysis</text>
<text x="1590.82" y="753.5" font-family="'Liberation Serif','DejaVu Serif',serif" font-size="38.5" textLength="37.41" lengthAdjust="spacingAndGlyphs">of</text>
<text x="1639.3" y="753.5" font-family="'Liberation Serif','DejaVu Serif',serif" font-size="38.5" textLength="60.8" lengthAdjust="spacingAndGlyphs">the</text>
<text x="1713.38" y="753.5" font-family="'Liberation Serif','DejaVu Serif',serif" font-size="38.5" textLength="141.24" lengthAdjust="spacingAndGlyphs">ranking</text>
<text x="1869.14" y="753.5" font-family="'Liberation Serif','DejaVu Serif',serif" font-size="38.5" textLength="59.03" lengthAdjust="spacingAndGlyphs">ob-</text>
<text x="1101.36" y="801.3" font-family="'Liberation Serif','DejaVu Serif',serif" font-size="38.5" textLength="120.42" lengthAdjust="spacingAndGlyphs">jective</text>
<text x="1235.64" y="801.3" font-family="'Liberation Serif','DejaVu Serif',serif" font-size="38.5" textLength="151.25" lengthAdjust="spacingAndGlyphs">function</text>
<text x="1403.23" y="801.3" font-family="'Liberation Serif','DejaVu Serif',serif" font-size="38.5" textLength="115.58" lengthAdjust="spacingAndGlyphs">shown</text>
<text x="1535.23" y="801.3" font-family="'Liberation Serif','DejaVu Serif',serif" font-size="38.5" textLength="33.73" lengthAdjust="spacingAndGlyphs">in</text>
<text x="1585.59" y="801.3" font-family="'Liberation Serif','DejaVu Serif',serif" font-size="38.5" textLength="169.84" lengthAdjust="spacingAndGlyphs">Equation</text>
<text x="1769.73" y="801.3" font-family="'Liberation Serif','DejaVu Serif',serif" font-size="38.5" textLength="22.57" lengthAdjust="spacingAndGlyphs">9</text>
</g>
</svg>
</body></html>
